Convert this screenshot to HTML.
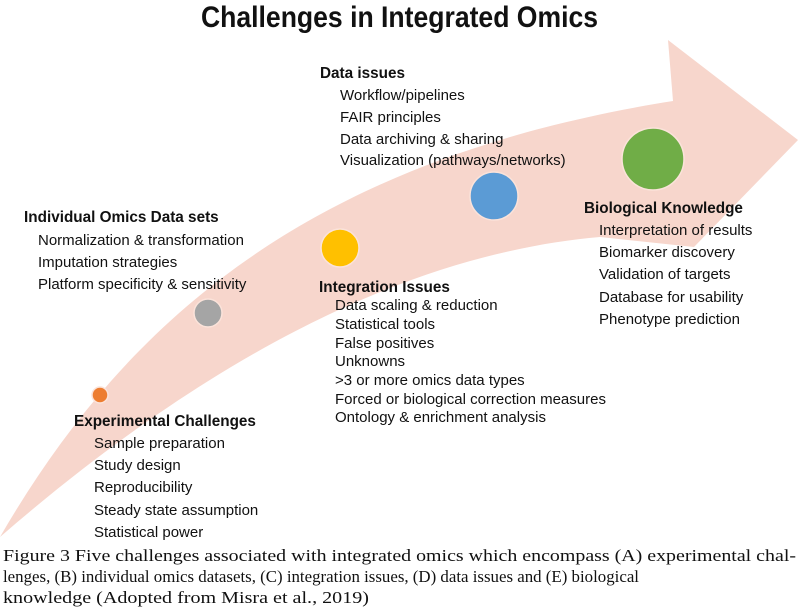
<!DOCTYPE html>
<html><head><meta charset="utf-8"><style>
html,body{margin:0;padding:0;background:#fff;}
svg{display:block;}
text{font-family:"Liberation Sans",Arial,sans-serif;fill:#111;}
.h{font-weight:bold;font-size:15.3px;}
.i{font-size:15px;}
.c{font-family:"Liberation Serif","Times New Roman",serif;font-size:17px;}
</style></head><body>
<svg width="800" height="612" viewBox="0 0 800 612" xmlns="http://www.w3.org/2000/svg">
<path d="M0,537 C120,330 300,160 673,101 L668,40 L798,140 L694,247 L600,237 C450,250 250,320 0,537 Z" fill="#f7d6cc"/>
<circle cx="100" cy="395" r="8" fill="#ed7d31" stroke="#fbe3da" stroke-width="1.5"/>
<circle cx="208" cy="313" r="14" fill="#a5a5a5" stroke="#fbe3da" stroke-width="1.5"/>
<circle cx="340" cy="248" r="19" fill="#ffc000" stroke="#fbe3da" stroke-width="1.5"/>
<circle cx="494" cy="196" r="24" fill="#5b9bd5" stroke="#fbe3da" stroke-width="1.5"/>
<circle cx="653" cy="159" r="31" fill="#70ad47" stroke="#fbe3da" stroke-width="1.5"/>
<text x="201" y="27" textLength="397" lengthAdjust="spacingAndGlyphs" style="font-weight:bold;font-size:30px">Challenges in Integrated Omics</text>
<text class="h" x="320" y="78">Data issues</text>
<text class="i" x="340" y="100">Workflow/pipelines</text>
<text class="i" x="340" y="122">FAIR principles</text>
<text class="i" x="340" y="144">Data archiving &amp; sharing</text>
<text class="i" x="340" y="165">Visualization (pathways/networks)</text>
<text class="h" x="24" y="222">Individual Omics Data sets</text>
<text class="i" x="38" y="245">Normalization &amp; transformation</text>
<text class="i" x="38" y="267">Imputation strategies</text>
<text class="i" x="38" y="289">Platform specificity &amp; sensitivity</text>
<text class="h" x="319" y="292">Integration Issues</text>
<text class="i" x="335" y="310">Data scaling &amp; reduction</text>
<text class="i" x="335" y="329">Statistical tools</text>
<text class="i" x="335" y="348">False positives</text>
<text class="i" x="335" y="366">Unknowns</text>
<text class="i" x="335" y="385">&gt;3 or more omics data types</text>
<text class="i" x="335" y="404">Forced or biological correction measures</text>
<text class="i" x="335" y="422">Ontology &amp; enrichment analysis</text>
<text class="h" x="74" y="426">Experimental Challenges</text>
<text class="i" x="94" y="448">Sample preparation</text>
<text class="i" x="94" y="470">Study design</text>
<text class="i" x="94" y="492">Reproducibility</text>
<text class="i" x="94" y="515">Steady state assumption</text>
<text class="i" x="94" y="537">Statistical power</text>
<text class="h" x="584" y="213">Biological Knowledge</text>
<text class="i" x="599" y="235">Interpretation of results</text>
<text class="i" x="599" y="257">Biomarker discovery</text>
<text class="i" x="599" y="279">Validation of targets</text>
<text class="i" x="599" y="302">Database for usability</text>
<text class="i" x="599" y="324">Phenotype prediction</text>
<text class="c" x="3" y="561" textLength="793" lengthAdjust="spacingAndGlyphs">Figure 3 Five challenges associated with integrated omics which encompass (A) experimental chal-</text>
<text class="c" x="3" y="582" textLength="636" lengthAdjust="spacingAndGlyphs">lenges, (B) individual omics datasets, (C) integration issues, (D) data issues and (E) biological</text>
<text class="c" x="3" y="603" textLength="366" lengthAdjust="spacingAndGlyphs">knowledge (Adopted from Misra et al., 2019)</text>
</svg>
</body></html>
